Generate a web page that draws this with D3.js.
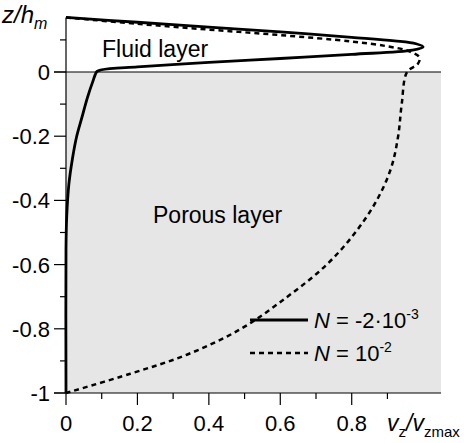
<!DOCTYPE html>
<html><head><meta charset="utf-8">
<script src="https://cdn.jsdelivr.net/npm/d3@7"></script>
<style>body{margin:0;background:#fff}text{font-family:"Liberation Sans",Arial,sans-serif}</style>
</head><body><svg id="chart" width="474" height="443"></svg>
<script>
var xTicks = [0, 0.2, 0.4, 0.6, 0.8]
var yTicks = [0, -0.2, -0.4, -0.6, -0.8, -1]
// N = -2e-3
var solidX = [0, 0.2, 0.4, 0.6, 0.8, 0.92, 0.98, 1.0, 0.97, 0.8, 0.6, 0.4, 0.2, 0.1, 0.087, 0.075, 0.06, 0.045, 0.03, 0.018, 0.008, 0.002, 0, 0]
var solidZ = [0.17, 0.155, 0.14, 0.125, 0.108, 0.097, 0.088, 0.078, 0.068, 0.055, 0.042, 0.03, 0.016, 0.007, 0.002, -0.03, -0.08, -0.14, -0.2, -0.27, -0.35, -0.45, -0.55, -1]
// N = 1e-2
var dashX = [0, 0.2, 0.4, 0.6, 0.8, 0.9, 0.96, 0.99, 0.985, 0.955, 0.94, 0.93, 0.91, 0.87, 0.81, 0.73, 0.62, 0.49, 0.34, 0.18, 0]
var dashZ = [0.17, 0.15, 0.132, 0.115, 0.095, 0.08, 0.065, 0.045, 0.025, 0, -0.1, -0.2, -0.3, -0.4, -0.5, -0.6, -0.7, -0.8, -0.88, -0.94, -1]

var svg = d3.select("#chart")
var x = d3.scaleLinear().domain([0, 1.05]).range([66, 441])
var y = d3.scaleLinear().domain([-1, 0]).range([393, 72])

svg.append("rect").attr("x", x(0)).attr("y", y(0)).attr("width", x(1.05) - x(0)).attr("height", y(-1) - y(0)).attr("fill", "#e6e6e6")

var ga = svg.append("g").attr("stroke", "#000").attr("stroke-width", 1.2)
ga.append("line").attr("x1", x(0)).attr("x2", x(0)).attr("y1", y(0.17)).attr("y2", y(-1))
ga.append("line").attr("x1", x(0) - 12).attr("x2", x(1.05)).attr("y1", y(0)).attr("y2", y(0))
ga.append("line").attr("x1", x(0) - 12).attr("x2", x(1.05)).attr("y1", y(-1)).attr("y2", y(-1))
d3.range(-10, 2).forEach(function(i) {
	var v = i / 10, major = (i % 2 == 0)
	ga.append("line").attr("x1", x(0) - (major ? 12 : 6)).attr("x2", x(0)).attr("y1", y(v)).attr("y2", y(v))
})
d3.range(0, 10).forEach(function(i) {
	var v = i / 10, major = (i % 2 == 0)
	ga.append("line").attr("x1", x(v)).attr("x2", x(v)).attr("y1", y(-1)).attr("y2", y(-1) + (major ? 12 : 6))
})

svg.selectAll(".yl").data(yTicks).enter().append("text").attr("x", x(0) - 16).attr("y", function(d) { return y(d) + 8 })
	.attr("text-anchor", "end").attr("font-size", 22).text(function(d) { return d })
svg.selectAll(".xl").data(xTicks).enter().append("text").attr("x", function(d) { return x(d) }).attr("y", 431)
	.attr("text-anchor", "middle").attr("font-size", 22).text(function(d) { return d })

var lineD = d3.line().x(function(d) { return x(d[0]) }).y(function(d) { return y(d[1]) }).curve(d3.curveCatmullRom)
svg.append("path").attr("d", lineD(d3.zip(dashX, dashZ))).attr("fill", "none").attr("stroke", "#000").attr("stroke-width", 2.5).attr("stroke-dasharray", "5,4")
svg.append("path").attr("d", lineD(d3.zip(solidX, solidZ))).attr("fill", "none").attr("stroke", "#000").attr("stroke-width", 2.8)

svg.append("text").attr("x", 102).attr("y", 57).attr("font-size", 23).text("Fluid layer")
svg.append("text").attr("x", 153).attr("y", 223).attr("font-size", 23).text("Porous layer")

var zl = svg.append("text").attr("x", 2).attr("y", 23).attr("font-size", 24).attr("font-style", "italic")
zl.append("tspan").text("z/h")
zl.append("tspan").attr("dy", 6).attr("font-size", 16).text("m")

var vl = svg.append("text").attr("x", 387).attr("y", 431).attr("font-size", 23).attr("font-style", "italic")
vl.append("tspan").text("v")
vl.append("tspan").attr("dy", 6).attr("font-size", 15).attr("font-style", "normal").text("z")
vl.append("tspan").attr("dy", -6).text("/v")
vl.append("tspan").attr("dy", 6).attr("font-size", 15).attr("font-style", "normal").text("zmax")

svg.append("line").attr("x1", 250).attr("x2", 308).attr("y1", 320).attr("y2", 320).attr("stroke", "#000").attr("stroke-width", 2.8)
svg.append("line").attr("x1", 250).attr("x2", 308).attr("y1", 353).attr("y2", 353).attr("stroke", "#000").attr("stroke-width", 2.5).attr("stroke-dasharray", "5,4")
var l1 = svg.append("text").attr("x", 314).attr("y", 328).attr("font-size", 22)
l1.append("tspan").attr("font-style", "italic").text("N")
l1.append("tspan").text(" = -2\u00b710")
l1.append("tspan").attr("dy", -9).attr("font-size", 14).text("-3")
var l2 = svg.append("text").attr("x", 314).attr("y", 361).attr("font-size", 22)
l2.append("tspan").attr("font-style", "italic").text("N")
l2.append("tspan").text(" = 10")
l2.append("tspan").attr("dy", -9).attr("font-size", 14).text("-2")
</script></body></html>
